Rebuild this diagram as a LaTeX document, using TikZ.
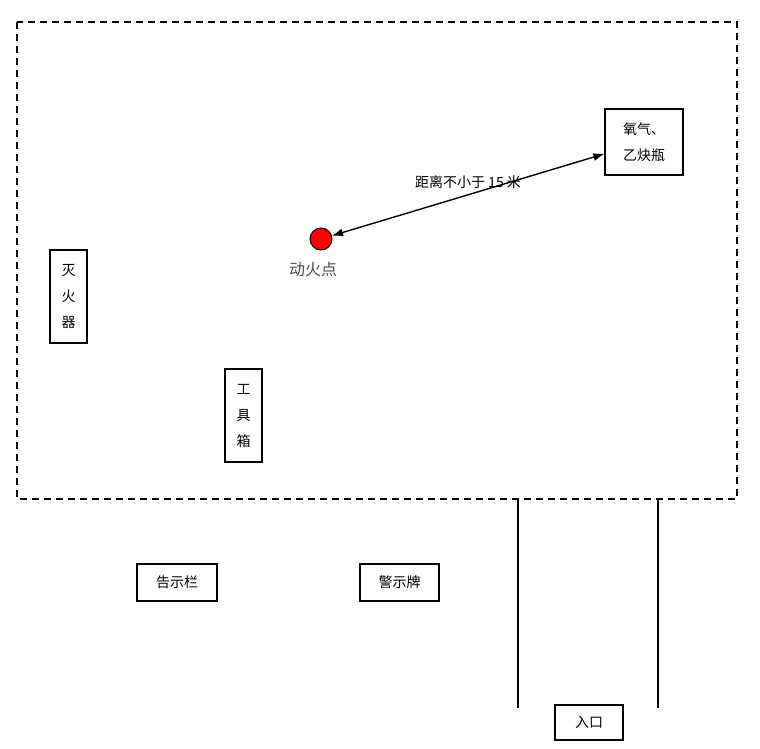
\documentclass[tikz,border=0pt]{standalone}
\usepackage{fontspec}
\setmainfont{Noto Sans CJK SC}
\usetikzlibrary{arrows.meta}

\begin{document}
\begin{tikzpicture}[x=1pt, y=-1pt,
    box/.style={draw, line width=1.3pt, inner sep=0pt, font=\fontsize{14}{26}\selectfont},
    >={Latex[length=11pt, width=8pt]}]
  \useasboundingbox (0, 0) rectangle (760, 749);

  % Work area
  \draw [line width=1.4pt, dash pattern=on 7pt off 5pt] (17, 22) rectangle (737, 499);

  % Entrance
  \coordinate (gateL) at (518, 500);
  \coordinate (gateR) at (658, 500);
  \draw [line width=1.4pt] (gateL) -- ++(0, 208);
  \draw [line width=1.4pt] (gateR) -- ++(0, 208);
  \node [box, minimum width=68pt, minimum height=35pt] (entry) at (589, 722.5) {入口};

  % Fire point and cylinders
  \node [circle, draw, fill=red, line width=1pt, minimum size=22pt, inner sep=0pt] (fire) at (321, 239) {};
  \node [text=black!70, font=\fontsize{16}{18}\selectfont] (firelabel) at (313, 269) {动火点};
  \node [box, minimum width=78pt, minimum height=66pt, align=left] (bottle) at (644, 142) {氧气、\\乙炔瓶};
  \draw [<->, line width=1.4pt] (fire) -- (bottle);
  \node [font=\fontsize{14}{16}\selectfont] (dist) at (468, 182) {距离不小于 15 米};

  % Equipment
  \node [box, minimum width=37pt, minimum height=93pt, align=center] (ext) at (68.5, 296.5) {灭\\火\\器};
  \node [box, minimum width=37pt, minimum height=93pt, align=center] (tools) at (243.5, 415.5) {工\\具\\箱};

  % Signs outside
  \node [box, minimum width=80pt, minimum height=37pt] (notice) at (177, 582.5) {告示栏};
  \node [box, minimum width=79pt, minimum height=37pt] (warning) at (399.5, 582.5) {警示牌};

\end{tikzpicture}
\end{document}
